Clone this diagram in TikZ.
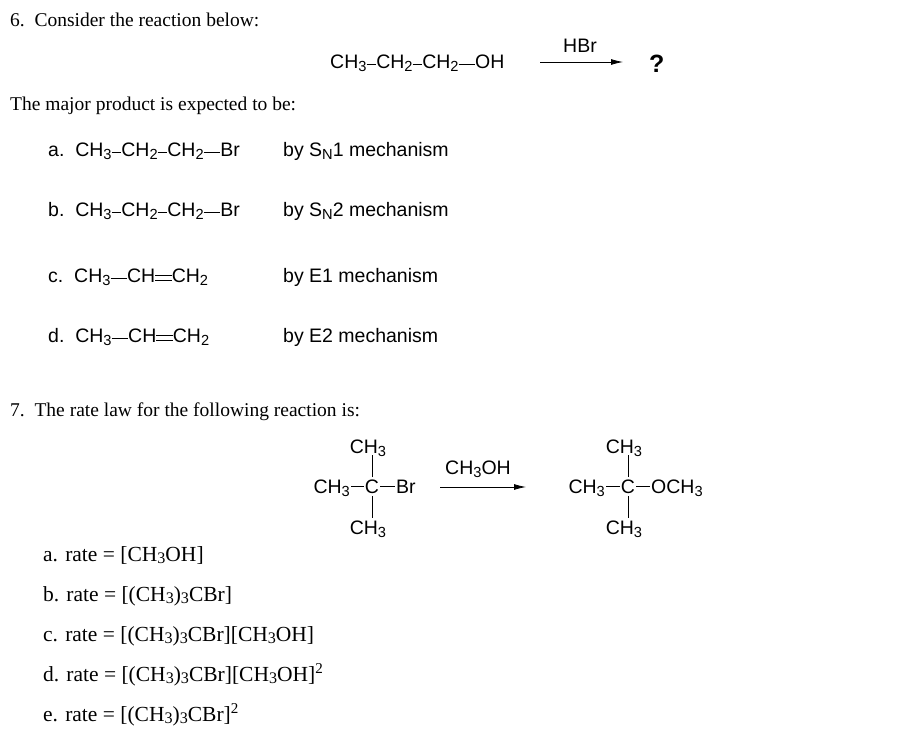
\documentclass[tikz,border=0pt]{standalone}
\usepackage{fontspec}
\setmainfont{Liberation Serif}
\newfontfamily\chemfont{Liberation Sans}
\usetikzlibrary{arrows.meta}
\usetikzlibrary{positioning}
\newcommand{\sub}[1]{\raisebox{-0.3ex}{\scalebox{0.75}{#1}}}
\newcommand{\sps}[1]{\raisebox{0.75ex}{\scalebox{0.7}{#1}}}
\newcommand{\bnd}{\raisebox{0.32ex}{\rule{0.85em}{0.075ex}}}
\newcommand{\sbnd}{\raisebox{0.32ex}{\rule{0.5em}{0.075ex}}}
\newcommand{\dbnd}{\raisebox{0.15ex}{\rule[0.42ex]{0.85em}{0.075ex}\llap{\rule{0.85em}{0.075ex}}}}

\begin{document}
\begin{tikzpicture}[x=1pt,y=-1pt,
  txt/.style={anchor=base west,inner sep=0pt,font=\fontsize{19.5}{22}\selectfont},
  rate/.style={anchor=base west,inner sep=0pt,font=\fontsize{21.5}{24}\selectfont},
  chem/.style={anchor=base west,inner sep=0pt,font=\fontsize{19.5}{22}\selectfont\chemfont},
  atom/.style={anchor=base,inner sep=0pt,font=\fontsize{19.5}{22}\selectfont\chemfont},
  bond/.style={line width=0.8pt},
  rxn/.style={-{Latex[length=12pt,width=6pt]},line width=0.8pt}]
\useasboundingbox (0,0) rectangle (924,744);

% Frage 6
\node[txt] (q6) at (10,27) {6.\ \ Consider the reaction below:};
\node[chem] (r6) at (330,68) {CH\sub{3}\sbnd CH\sub{2}\sbnd CH\sub{2}\bnd OH};
\coordinate (a6s) at (540,62);
\coordinate (a6e) at (623,62);
\draw[rxn] (a6s) -- (a6e);
\node[chem] (hbr) at (563,52) {HBr};
\node[chem,font=\fontsize{25}{26}\selectfont\chemfont\bfseries] (qm) at (649,72) {?};
\node[txt] (maj) at (10,110) {The major product is expected to be:};

\node[chem] (o6a) at (48,156) {a.\ \ CH\sub{3}\sbnd CH\sub{2}\sbnd CH\sub{2}\bnd Br};
\node[chem] (m6a) at (283,156) {by S\sub{N}1 mechanism};
\node[chem] (o6b) at (48,216) {b.\ \ CH\sub{3}\sbnd CH\sub{2}\sbnd CH\sub{2}\bnd Br};
\node[chem] (m6b) at (283,216) {by S\sub{N}2 mechanism};
\node[chem] (o6c) at (48,282) {c.\ \ CH\sub{3}\bnd CH\dbnd CH\sub{2}};
\node[chem] (m6c) at (283,282) {by E1 mechanism};
\node[chem] (o6d) at (48,342) {d.\ \ CH\sub{3}\bnd CH\dbnd CH\sub{2}};
\node[chem] (m6d) at (283,342) {by E2 mechanism};

% Frage 7
\node[txt] (q7) at (10,416) {7.\ \ The rate law for the following reaction is:};

\node[atom] (c1) at (372,493) {C};
\node[atom] (c1t) at (372,453) {CH\sub{3}\phantom{\sub{3}}};
\node[atom] (c1b) at (372,534) {CH\sub{3}\phantom{\sub{3}}};
\node[chem,anchor=base east] (c1l) at (350,493) {CH\sub{3}};
\node[chem] (br) at (396,493) {Br};
\draw[bond] ([xshift=1pt,yshift=6.5pt]c1l.base east) -- ([xshift=-1pt,yshift=6.5pt]c1.base west);
\draw[bond] ([xshift=1pt,yshift=6.5pt]c1.base east) -- ([xshift=-1pt,yshift=6.5pt]br.base west);
\draw[bond] ([yshift=16pt]c1.base) -- ([yshift=-2pt]c1t.base);
\draw[bond] ([yshift=-3pt]c1.base) -- ([yshift=16pt]c1b.base);

\coordinate (a7s) at (440,487);
\coordinate (a7e) at (526,487);
\draw[rxn] (a7s) -- (a7e);
\node[chem] (meoh) at (445,474) {CH\sub{3}OH};

\node[atom] (c2) at (628,493) {C};
\node[atom] (c2t) at (628,453) {CH\sub{3}\phantom{\sub{3}}};
\node[atom] (c2b) at (628,534) {CH\sub{3}\phantom{\sub{3}}};
\node[chem,anchor=base east] (c2l) at (605,493) {CH\sub{3}};
\node[chem] (ome) at (651,493) {OCH\sub{3}};
\draw[bond] ([xshift=1pt,yshift=6.5pt]c2l.base east) -- ([xshift=-1pt,yshift=6.5pt]c2.base west);
\draw[bond] ([xshift=1pt,yshift=6.5pt]c2.base east) -- ([xshift=-1pt,yshift=6.5pt]ome.base west);
\draw[bond] ([yshift=16pt]c2.base) -- ([yshift=-2pt]c2t.base);
\draw[bond] ([yshift=-3pt]c2.base) -- ([yshift=16pt]c2b.base);

\node[rate] (o7a) at (43,561) {a. rate = [CH\sub{3}OH]};
\node[rate] (o7b) at (43,601) {b. rate = [(CH\sub{3})\sub{3}CBr]};
\node[rate] (o7c) at (43,641) {c. rate = [(CH\sub{3})\sub{3}CBr][CH\sub{3}OH]};
\node[rate] (o7d) at (43,681) {d. rate = [(CH\sub{3})\sub{3}CBr][CH\sub{3}OH]\sps{2}};
\node[rate] (o7e) at (43,721) {e. rate = [(CH\sub{3})\sub{3}CBr]\sps{2}};
\end{tikzpicture}
\end{document}
